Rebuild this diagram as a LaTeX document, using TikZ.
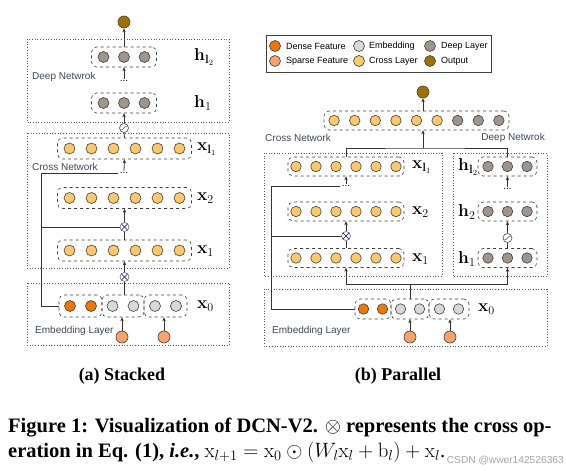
\documentclass[tikz,border=0pt]{standalone}
\usepackage{amsmath}
\usepackage[no-math]{fontspec}
\newfontfamily\lblfont{Liberation Sans}
\newfontfamily\capfont{Liberation Serif}
\usepackage{tikz}
\usetikzlibrary{arrows.meta}
\definecolor{densecol}{RGB}{240,118,0}
\definecolor{sparsecol}{RGB}{246,162,104}
\definecolor{embcol}{RGB}{216,216,216}
\definecolor{crosscol}{RGB}{254,200,104}
\definecolor{deepcol}{RGB}{158,149,141}
\definecolor{outcol}{RGB}{162,112,0}
\definecolor{lblcol}{RGB}{62,72,92}

\begin{document}
\begin{tikzpicture}[x=1pt, y=-1pt, >={Stealth[length=4pt,width=3.4pt]},
	neuron/.style={circle, draw=black!75, line width=0.6pt, minimum size=11pt, inner sep=0pt},
	densen/.style={neuron, fill=densecol},
	sparsen/.style={neuron, fill=sparsecol, minimum size=12pt},
	embn/.style={neuron, fill=embcol},
	crossn/.style={neuron, fill=crosscol},
	deepn/.style={neuron, fill=deepcol},
	outn/.style={neuron, fill=outcol, minimum size=12pt},
	rowbox/.style={draw=black!75, dashed, line width=0.6pt, rounded corners=5pt, inner sep=0pt},
	netbox/.style={draw=black!65, dotted, line width=0.7pt},
	link/.style={draw=black!80, line width=0.8pt},
	crossop/.style={circle, draw=black!60, fill=white, line width=0.6pt, minimum size=9pt, inner sep=0pt,
		path picture={\draw[blue!70!black, line width=0.5pt] (path picture bounding box.north west) -- (path picture bounding box.south east)
			(path picture bounding box.north east) -- (path picture bounding box.south west);}},
	actop/.style={circle, draw=black!70, fill=white, line width=0.6pt, minimum size=9pt, inner sep=0pt,
		path picture={\draw[line width=0.5pt] ([shift={(-3.5,2)}]path picture bounding box.center)
			.. controls ([shift={(0,2)}]path picture bounding box.center) and ([shift={(0,-2)}]path picture bounding box.center)
			.. ([shift={(3.5,-2)}]path picture bounding box.center);}},
	dotn/.style={font=\lblfont\fontsize{10}{12}\selectfont, inner sep=1.5pt},
	vlbl/.style={font=\fontsize{17}{20}\selectfont, inner sep=0pt, anchor=west},
	netlbl/.style={font=\lblfont\fontsize{10}{12}\selectfont, text=lblcol, inner sep=0pt, anchor=west},
	legtxt/.style={font=\lblfont\fontsize{9}{11}\selectfont, inner sep=0pt, anchor=west},
	subcap/.style={font=\capfont\bfseries\fontsize{18}{21}\selectfont, inner sep=0pt},
	capline/.style={font=\capfont\bfseries\fontsize{20.5}{24}\selectfont, inner sep=0pt, anchor=base west}]

	\useasboundingbox (0,0) rectangle (566,471);
	\fill[white] (0,0) rectangle (566,471);

	%%% (a) Stacked
	% Boxes
	\draw[netbox] (27,39) rectangle (229,122);
	\draw[netbox] (27,133) rectangle (229,268);
	\draw[netbox] (27,283) rectangle (229,345);
	\node[netlbl] (deeplbla) at (32,77) {Deep Netwrok};
	\node[netlbl] (crosslbla) at (32,167) {Cross Network};
	\node[netlbl] (emblbla) at (35,331) {Embedding Layer};
	% Output
	\node[outn] (outa) at (124,22) {};
	% Deep layers
	\node[rowbox, minimum width=65, minimum height=20] (hl2a) at (124,57) {};
	\foreach \i in {0,1,2}
		\node[deepn] (hl2a-\i) at (103.5+20.5*\i,57) {};
	\node[vlbl] (lhl2a) at (194,57) {$\mathbf{h}_{\mathbf{l}_2}$};
	\node[dotn] (dA1) at (124,81) {...};
	\node[rowbox, minimum width=65, minimum height=20] (h1a) at (124,103) {};
	\foreach \i in {0,1,2}
		\node[deepn] (h1a-\i) at (103.5+20.5*\i,103) {};
	\node[vlbl] (lh1a) at (194,103) {$\mathbf{h}_1$};
	\node[actop] (acta) at (124,128) {};
	% Cross layers
	\node[rowbox, minimum width=134, minimum height=21] (xl1a) at (124.5,148.5) {};
	\foreach \i in {0,...,5}
		\node[crossn] (xl1a-\i) at (69.5+22*\i,148.5) {};
	\node[vlbl] (lxl1a) at (197,149) {$\mathbf{x}_{\mathbf{l}_1}$};
	\node[dotn] (dA2) at (124,173) {...};
	\node[rowbox, minimum width=134, minimum height=21] (x2a) at (124.5,198) {};
	\foreach \i in {0,...,5}
		\node[crossn] (x2a-\i) at (69.5+22*\i,198) {};
	\node[vlbl] (lx2a) at (197,198) {$\mathbf{x}_2$};
	\node[crossop] (crA2) at (124.5,227) {};
	\node[rowbox, minimum width=134, minimum height=21] (x1a) at (124.5,250.5) {};
	\foreach \i in {0,...,5}
		\node[crossn] (x1a-\i) at (69.5+22*\i,250.5) {};
	\node[vlbl] (lx1a) at (197,251) {$\mathbf{x}_1$};
	\node[crossop] (crA1) at (124.5,277) {};
	% Embedding
	\node[rowbox, minimum width=43, minimum height=22] (e1a) at (80.5,306) {};
	\node[rowbox, minimum width=42, minimum height=22] (e2a) at (123,306) {};
	\node[rowbox, minimum width=43, minimum height=22] (e3a) at (165.5,306) {};
	\node[densen] (e1a-0) at (70,306) {};
	\node[densen] (e1a-1) at (91,306) {};
	\node[embn] (e2a-0) at (112.5,306) {};
	\node[embn] (e2a-1) at (133.5,306) {};
	\node[embn] (e3a-0) at (155,306) {};
	\node[embn] (e3a-1) at (176,306) {};
	\node[vlbl] (lx0a) at (197,306) {$\mathbf{x}_0$};
	\node[sparsen] (spA1) at (122,337) {};
	\node[sparsen] (spA2) at (164,337) {};
	% Connectors
	\draw[link,->] (hl2a.north) -- (outa.south);
	\draw[link,->] (dA1.north) -- (hl2a.south);
	\draw[link,->] (acta.north) -- (h1a.south);
	\draw[link] (xl1a.north) -- (acta.south);
	\draw[link,->] (dA2.north) -- (xl1a.south);
	\draw[link,->] (crA2.north) -- (x2a.south);
	\draw[link] (x1a.north) -- (crA2.south);
	\draw[link,->] (crA1.north) -- (x1a.south);
	\draw[link] (crA1.south |- e2a.north) -- (crA1.south);
	\draw[link,->] (spA1.north) -- (spA1.north |- e2a.south);
	\draw[link,->] (spA2.north) -- (spA2.north |- e3a.south);
	\coordinate (busA) at (41,306);
	\draw[link] (e1a.west) -- (busA) |- (dA2.west);
	\draw[link] (busA |- crA2) -- (crA2.west);
	\node[subcap] (suba) at (122,376) {(a) Stacked};

	%%% (b) Parallel
	% Legend
	\draw[draw=black!75, line width=0.9pt] (266,35) rectangle (491,72);
	\node[densen] (lgc1) at (275,46) {};
	\node[legtxt] (lgt1) at (286,46) {Dense Feature};
	\node[sparsen, minimum size=11pt] (lgc2) at (275,61) {};
	\node[legtxt] (lgt2) at (286,61) {Sparse Feature};
	\node[embn] (lgc3) at (359,46) {};
	\node[legtxt] (lgt3) at (369,46) {Embedding};
	\node[crossn] (lgc4) at (359,61) {};
	\node[legtxt] (lgt4) at (369,61) {Cross Layer};
	\node[deepn] (lgc5) at (430,46) {};
	\node[legtxt] (lgt5) at (441,46) {Deep Layer};
	\node[outn, minimum size=11pt] (lgc6) at (430,61) {};
	\node[legtxt] (lgt6) at (441,61) {Output};
	% Boxes
	\draw[netbox] (264,153) rectangle (442,276);
	\draw[netbox] (453,153) rectangle (547,276);
	\draw[netbox] (264,289) rectangle (547,346);
	\node[netlbl] (crosslblb) at (265,138) {Cross Network};
	\node[netlbl, anchor=east] (deeplblb) at (545,138) {Deep Netwrok};
	\node[netlbl] (emblblb) at (272,331) {Embedding Layer};
	% Output and stacked layer
	\node[outn] (outb) at (423,92) {};
	\node[rowbox, minimum width=185, minimum height=19] (topb) at (416.5,120.5) {};
	\foreach \i in {0,...,5}
		\node[crossn, minimum size=10.5pt] (topb-\i) at (334.1+20.6*\i,120.5) {};
	\foreach \i in {6,7,8}
		\node[deepn, minimum size=10.5pt] (topb-\i) at (334.1+20.6*\i,120.5) {};
	\coordinate (merge) at (423,148);
	% Cross layers
	\node[rowbox, minimum width=116, minimum height=19] (xl1b) at (346,166.5) {};
	\node[rowbox, minimum width=116, minimum height=19] (x2b) at (346,211.5) {};
	\node[rowbox, minimum width=116, minimum height=19] (x1b) at (346,258) {};
	\foreach \i in {0,...,5} {
		\node[crossn, minimum size=10.5pt] (xl1b-\i) at (296+20*\i,166.5) {};
		\node[crossn, minimum size=10.5pt] (x2b-\i) at (296+20*\i,211.5) {};
		\node[crossn, minimum size=10.5pt] (x1b-\i) at (296+20*\i,258) {};
	}
	\node[vlbl] (lxl1b) at (412,167) {$\mathbf{x}_{\mathbf{l}_1}$};
	\node[vlbl] (lx2b) at (412,212) {$\mathbf{x}_2$};
	\node[vlbl] (lx1b) at (412,259) {$\mathbf{x}_1$};
	\node[dotn] (dB1) at (346,186) {...};
	\node[crossop] (crB) at (346,236) {};
	% Deep layers
	\node[rowbox, minimum width=59, minimum height=19] (hl2b) at (507.5,166.5) {};
	\node[rowbox, minimum width=59, minimum height=19] (h2b) at (507.5,211.5) {};
	\node[rowbox, minimum width=59, minimum height=19] (h1b) at (507.5,258) {};
	\foreach \i in {0,1,2} {
		\node[deepn, minimum size=10.5pt] (hl2b-\i) at (488+19.5*\i,166.5) {};
		\node[deepn, minimum size=10.5pt] (h2b-\i) at (488+19.5*\i,211.5) {};
		\node[deepn, minimum size=10.5pt] (h1b-\i) at (488+19.5*\i,258) {};
	}
	\node[vlbl] (lhl2b) at (458,167) {$\mathbf{h}_{\mathbf{l}_2}$};
	\node[vlbl] (lh2b) at (458,212) {$\mathbf{h}_2$};
	\node[vlbl] (lh1b) at (458,259) {$\mathbf{h}_1$};
	\node[dotn] (dB2) at (507.5,189) {...};
	\node[actop] (actb) at (507.5,238) {};
	% Embedding
	\node[rowbox, minimum width=36, minimum height=20] (e1b) at (373,309) {};
	\node[rowbox, minimum width=38, minimum height=20] (e2b) at (410,309) {};
	\node[rowbox, minimum width=40, minimum height=20] (e3b) at (449,309) {};
	\node[densen, minimum size=10.5pt] (e1b-0) at (363.5,309) {};
	\node[densen, minimum size=10.5pt] (e1b-1) at (382.5,309) {};
	\node[embn, minimum size=10.5pt] (e2b-0) at (400.5,309) {};
	\node[embn, minimum size=10.5pt] (e2b-1) at (419.5,309) {};
	\node[embn, minimum size=10.5pt] (e3b-0) at (439.5,309) {};
	\node[embn, minimum size=10.5pt] (e3b-1) at (458.5,309) {};
	\node[vlbl] (lx0b) at (478,309) {$\mathbf{x}_0$};
	\node[sparsen] (spB1) at (410,337) {};
	\node[sparsen] (spB2) at (450,337) {};
	\coordinate (split) at (410,284);
	% Connectors
	\draw[link,->] (outb.south |- topb.north) -- (outb.south);
	\draw[link,->] (merge) -- (merge |- topb.south);
	\draw[link] (xl1b.north) |- (merge) -| (hl2b.north);
	\draw[link,->] (dB1.north) -- (xl1b.south);
	\draw[link,->] (crB.north) -- (x2b.south);
	\draw[link] (x1b.north) -- (crB.south);
	\draw[link,->] (dB2.north) -- (hl2b.south);
	\draw[link,->] (actb.north) -- (h2b.south);
	\draw[link] (h1b.north) -- (actb.south);
	\draw[link] (e2b.north) -- (split);
	\draw[link,->] (split) -| (x1b.south);
	\draw[link,->] (split) -| (h1b.south);
	\draw[link,->] (spB1.north) -- (spB1.north |- e2b.south);
	\draw[link,->] (spB2.north) -- (spB2.north |- e3b.south);
	\coordinate (busB) at (271,309);
	\draw[link] (e1b.west) -- (busB) |- (dB1.west);
	\draw[link] (busB |- crB) -- (crB.west);
	\node[subcap] (subb) at (398,376) {(b) Parallel};

	%%% Caption
	\node[capline] (cap1) at (8,432) {Figure 1: Visualization of DCN-V2. $\otimes$ represents the cross op-};
	\node[capline] (cap2) at (8,457) {eration in Eq. (1), \textit{i.e.}, \mdseries$\mathrm{x}_{l+1} = \mathrm{x}_0 \odot (W_l\mathrm{x}_l + \mathrm{b}_l) + \mathrm{x}_l$.};
	\node[font=\lblfont\fontsize{10.2}{12}\selectfont, text=black!35, inner sep=0pt, anchor=east] (wmark) at (564,461) {CSDN @wwer142526363};
\end{tikzpicture}
\end{document}
